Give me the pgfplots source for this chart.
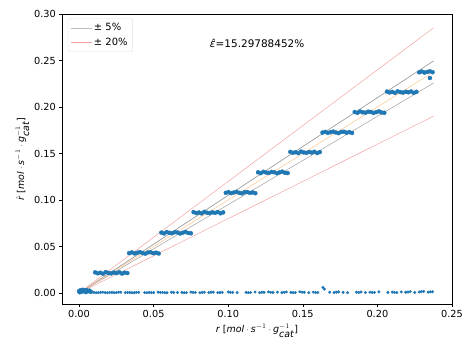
\documentclass[border=0pt]{standalone}
\usepackage{pgfplots}
\pgfplotsset{compat=1.18}
\usepackage{fontspec}
\setmainfont{DejaVu Sans}
\definecolor{tabblue}{HTML}{1F77B4}
\definecolor{gline}{HTML}{A0A0A0}
\definecolor{rline}{HTML}{F4A3A3}
\definecolor{oline}{HTML}{FFC58F}
\begin{document}
\begin{tikzpicture}
\useasboundingbox (-62bp,-51bp) rectangle (412bp,304bp);
\begin{axis}[
  scale only axis, width=390bp, height=290bp,
  xmin=-0.0114, xmax=0.25, ymin=-0.0118, ymax=0.30,
  xtick={0,0.05,0.1,0.15,0.2,0.25},
  ytick={0,0.05,0.1,0.15,0.2,0.25,0.3},
  tick pos=left, tick align=outside,
  major tick length=2.6bp,
  tick style={black, line width=0.5pt},
  axis line style={line width=0.6pt},
  /pgf/number format/assume math mode=true,
  /pgf/number format/fixed, /pgf/number format/fixed zerofill,
  /pgf/number format/precision=2,
  ticklabel style={font=\fontsize{9.8}{11}\selectfont},
  xlabel={$\textit{r}$ [$\textit{mol}\cdot \textit{s}^{-1}\cdot \textit{g}_{\textit{cat}}^{-1}$]},
  ylabel={$\hat{\textit{r}}$ [$\textit{mol}\cdot \textit{s}^{-1}\cdot \textit{g}_{\textit{cat}}^{-1}$]},
  label style={font=\fontsize{9.5}{11}\selectfont},
  xlabel style={yshift=0bp},
  ylabel style={yshift=-2bp},
  legend style={at={(0.015,0.985)}, anchor=north west, draw=white!88!black, rounded corners=2pt, font=\fontsize{10}{11}\selectfont, row sep=1.5pt, inner sep=3pt},
  legend cell align=left,
  legend image code/.code={\draw[#1] (0cm,0cm) -- (0.72cm,0cm);},
  clip=true,
]
\addplot[gline!70!white, line width=0.5pt] coordinates {(0,0) (0.2376,0.24948)};
\addlegendentry{± 5\%}
\addplot[rline, line width=0.5pt] coordinates {(0,0) (0.2376,0.28512)};
\addlegendentry{± 20\%}
\addplot[gline, line width=0.5pt, forget plot] coordinates {(0,0) (0.2376,0.24948)};
\addplot[gline, line width=0.5pt, forget plot] coordinates {(0,0) (0.2376,0.22572)};
\addplot[rline, line width=0.5pt, forget plot] coordinates {(0,0) (0.2376,0.19008)};
\addplot[oline, line width=0.5pt, forget plot] coordinates {(0,0) (0.2376,0.2376)};
% predicted vs. measured (steps)
\addplot[only marks, mark=*, mark size=2.0bp, tabblue, mark options={draw=tabblue, fill=tabblue}, forget plot] table {
x y
0.0000 0.0020
0.0010 0.0030
0.0020 0.0015
0.0030 0.0028
0.0040 0.0022
0.0050 0.0032
0.0060 0.0018
0.0070 0.0026
0.0080 0.0012
0.0005 0.0008
0.0025 0.0035
0.0045 0.0010
0.0108 0.0222
0.0126 0.0212
0.0144 0.0218
0.0162 0.0208
0.0180 0.0225
0.0198 0.0216
0.0216 0.0211
0.0234 0.0220
0.0252 0.0214
0.0270 0.0223
0.0288 0.0209
0.0306 0.0219
0.0324 0.0215
0.0336 0.0429
0.0354 0.0437
0.0372 0.0426
0.0390 0.0433
0.0408 0.0440
0.0426 0.0430
0.0444 0.0423
0.0462 0.0436
0.0480 0.0438
0.0498 0.0428
0.0516 0.0434
0.0534 0.0425
0.0552 0.0650
0.0570 0.0641
0.0588 0.0656
0.0606 0.0647
0.0624 0.0643
0.0642 0.0654
0.0660 0.0651
0.0678 0.0640
0.0696 0.0649
0.0714 0.0657
0.0732 0.0645
0.0750 0.0642
0.0768 0.0870
0.0786 0.0860
0.0804 0.0866
0.0822 0.0856
0.0840 0.0873
0.0858 0.0864
0.0876 0.0859
0.0894 0.0868
0.0912 0.0862
0.0930 0.0871
0.0948 0.0857
0.0966 0.0867
0.0984 0.1077
0.1002 0.1085
0.1020 0.1074
0.1038 0.1081
0.1056 0.1088
0.1074 0.1078
0.1092 0.1071
0.1110 0.1084
0.1128 0.1086
0.1146 0.1076
0.1164 0.1082
0.1182 0.1073
0.1200 0.1298
0.1218 0.1289
0.1236 0.1304
0.1254 0.1295
0.1272 0.1291
0.1290 0.1302
0.1308 0.1299
0.1326 0.1288
0.1344 0.1297
0.1362 0.1305
0.1380 0.1293
0.1398 0.1290
0.1416 0.1518
0.1434 0.1508
0.1452 0.1514
0.1470 0.1504
0.1488 0.1521
0.1506 0.1512
0.1524 0.1507
0.1542 0.1516
0.1560 0.1510
0.1578 0.1519
0.1596 0.1505
0.1614 0.1515
0.1632 0.1725
0.1650 0.1733
0.1668 0.1722
0.1686 0.1729
0.1704 0.1736
0.1722 0.1726
0.1740 0.1719
0.1758 0.1732
0.1776 0.1734
0.1794 0.1724
0.1812 0.1730
0.1830 0.1721
0.1848 0.1946
0.1866 0.1937
0.1884 0.1952
0.1902 0.1943
0.1920 0.1939
0.1938 0.1950
0.1956 0.1947
0.1974 0.1936
0.1992 0.1945
0.2010 0.1953
0.2028 0.1941
0.2046 0.1938
0.2064 0.2166
0.2082 0.2156
0.2100 0.2162
0.2118 0.2152
0.2136 0.2169
0.2154 0.2160
0.2172 0.2155
0.2190 0.2164
0.2208 0.2158
0.2226 0.2167
0.2244 0.2153
0.2262 0.2163
0.2280 0.2373
0.2298 0.2381
0.2316 0.2370
0.2334 0.2377
0.2352 0.2384
0.2370 0.2374
0.2352 0.2312
};
% residual-like series along zero
\addplot[only marks, mark=*, mark size=1.3bp, tabblue, mark options={draw=tabblue, fill=tabblue}, forget plot] table {
x y
0.010 0.0006
0.0115 0.0003
0.013 0.0004
0.0145 0.0007
0.016 0.0008
0.0175 0.0005
0.019 0.0003
0.0205 0.0006
0.022 0.0007
0.0235 0.0004
0.025 0.0005
0.0265 0.0008
0.028 0.0009
0.031 0.0004
0.0325 0.0006
0.034 0.0006
0.0355 0.0004
0.037 0.0003
0.0385 0.0007
0.040 0.0008
0.044 0.0005
0.0455 0.0003
0.047 0.0007
0.0485 0.0005
0.050 0.0004
0.053 0.0009
0.0545 0.0006
0.056 0.0006
0.0575 0.0004
0.059 0.0003
0.062 0.0008
0.0635 0.0005
0.066 0.0005
0.069 0.0007
0.0705 0.0004
0.072 0.0004
0.075 0.0010
0.0765 0.0007
0.078 0.0006
0.081 0.0003
0.0825 0.0006
0.084 0.0008
0.087 0.0005
0.0885 0.0008
0.090 0.0009
0.093 0.0004
0.0945 0.0006
0.096 0.0007
0.100 0.0011
0.1015 0.0007
0.103 0.0006
0.106 0.0004
0.112 0.0007
0.1135 0.0004
0.115 0.0005
0.118 0.0010
0.121 0.0004
0.1225 0.0008
0.124 0.0008
0.127 0.0012
0.1285 0.0007
0.130 0.0006
0.133 0.0009
0.136 0.0004
0.1375 0.0008
0.139 0.0011
0.142 0.0007
0.1435 0.0004
0.145 0.0005
0.148 0.0013
0.1495 0.0009
0.151 0.0008
0.154 0.0004
0.157 0.0010
0.1585 0.0006
0.160 0.0006
0.1635 0.0060
0.1645 0.0042
0.168 0.0009
0.171 0.0005
0.1725 0.0009
0.174 0.0012
0.177 0.0007
0.180 0.0004
0.186 0.0008
0.1875 0.0005
0.189 0.0011
0.192 0.0005
0.195 0.0009
0.1965 0.0006
0.198 0.0006
0.201 0.0013
0.207 0.0007
0.210 0.0010
0.2115 0.0006
0.213 0.0005
0.216 0.0012
0.219 0.0008
0.2205 0.0011
0.222 0.0015
0.225 0.0006
0.228 0.0011
0.2295 0.0015
0.231 0.0018
0.234 0.0009
0.2355 0.0012
0.237 0.0014
};
\node[anchor=west, font=\fontsize{10.5}{12}\selectfont, inner sep=0pt] at (axis cs:0.0875,0.268) {\textit{ε̂}=15.29788452\%};
\end{axis}
\end{tikzpicture}
\end{document}
